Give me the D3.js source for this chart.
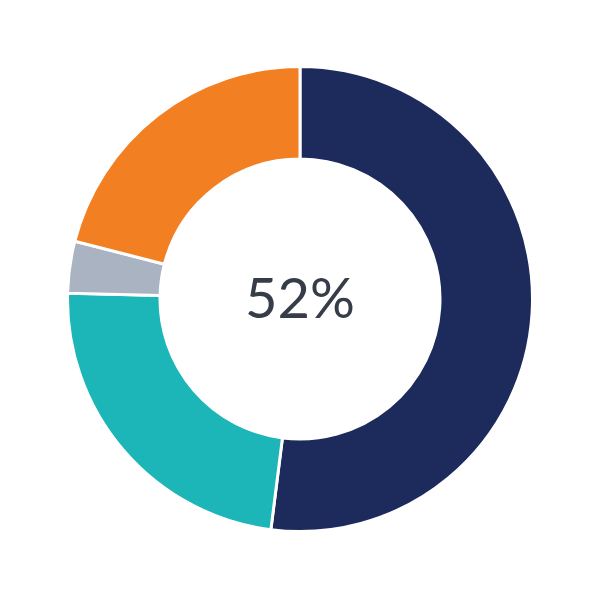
<!DOCTYPE html>
<html><head><meta charset="utf-8">
<script src="https://cdn.jsdelivr.net/npm/d3@7"></script>
<style>html,body{margin:0;padding:0;background:#fff;}</style>
</head><body>
<svg id="c" width="600" height="600"></svg>
<script>
const categories = ["A", "B", "C", "D"];
const values = [52, 23.4, 3.6, 21];
const colors = ["#1c2b5b", "#1cb5b8", "#a9b3c1", "#f27f21"];
const centerLabel = "52%";

const svg = d3.select("#c");
const g = svg.append("g").attr("transform", "translate(300,299)");
const pie = d3.pie().sort(null).value(d => d.v);
const arc = d3.arc().innerRadius(140).outerRadius(232.5);
const data = categories.map((c, i) => ({c, v: values[i]}));
const color = d3.scaleOrdinal().domain(categories).range(colors);
g.selectAll("path").data(pie(data)).join("path")
  .attr("d", arc)
  .attr("fill", d => color(d.data.c))
  .attr("stroke", "#fff")
  .attr("stroke-width", 3);
g.append("text").text(centerLabel)
  .attr("x", 0).attr("y", 19)
  .attr("text-anchor", "middle")
  .attr("font-family", "Lato, sans-serif")
  .attr("font-size", 56)
  .attr("fill", "#363c48");
</script>
</body></html>
